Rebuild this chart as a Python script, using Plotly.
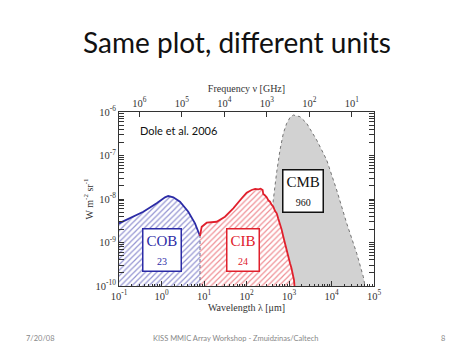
import plotly.graph_objects as go

# ---- data (wavelength in micron, intensity in W m^-2 sr^-1) ----
cob_lam = [0.1, 0.18, 0.373, 0.77, 1.21, 1.44, 1.90, 2.72, 4.27, 6.14, 8.05]
cob_val = [2.76e-9, 3.6e-9, 5.1e-9, 7.96e-9, 1.09e-8, 1.17e-8, 1.09e-8, 8.67e-9, 5.1e-9, 2.76e-9, 1.41e-9]

cib_lam = [8.05, 8.83, 11.6, 19.9, 31.2, 48.9, 77.1, 101, 132, 160, 190, 215, 240, 248, 270, 299, 330,
           357, 390, 427, 470, 514, 560, 614, 670, 735, 800, 883, 960, 1057, 1140, 1222, 1312, 1346]
cib_val = [1.41e-9, 2.31e-9, 2.85e-9, 3.0e-9, 3.92e-9, 6.1e-9, 1.04e-8, 1.40e-8, 1.61e-8, 1.70e-8, 1.67e-8,
           1.72e-8, 1.61e-8, 1.30e-8, 1.22e-8, 1.09e-8, 9.2e-9, 8.67e-9, 7.4e-9, 6.65e-9, 5.3e-9, 4.69e-9,
           3.5e-9, 2.76e-9, 2.0e-9, 1.36e-9, 9.5e-10, 6.72e-10, 4.6e-10, 3.33e-10, 2.6e-10, 1.96e-10, 1.37e-10, 1.0e-10]

cmb_lam = [272, 330, 380, 427, 514, 614, 735, 883, 1057, 1262, 1815, 2606, 4484, 7709, 13250, 22800, 39200, 56000, 61400]
cmb_val = [1.0e-10, 8e-10, 3.5e-9, 9.5e-9, 4.25e-8, 1.34e-7, 3.24e-7, 5.5e-7, 7.48e-7, 8.53e-7, 7.8e-7, 5.5e-7,
           2.27e-7, 7.88e-8, 1.61e-8, 2.76e-9, 5.65e-10, 1.64e-10, 1.0e-10]

lam_exps = [-1, 0, 1, 2, 3, 4, 5]
int_exps = [-10, -9, -8, -7, -6]
freq_exps = [6, 5, 4, 3, 2, 1]   # GHz

lam_ticks = [10.0 ** e for e in lam_exps]
lam_text = ["10<sup>%d</sup>" % e for e in lam_exps]
int_ticks = [10.0 ** e for e in int_exps]
int_text = ["10<sup>%d</sup>" % e for e in int_exps]
freq_tick_lam = [3e5 / 10.0 ** e for e in freq_exps]
freq_text = ["10<sup>%d</sup>" % e for e in freq_exps]
lam_minor = [m * 10.0 ** e for e in lam_exps[:-1] for m in range(2, 10)]
int_minor = [m * 10.0 ** e for e in int_exps[:-1] for m in range(2, 10)]

FLOOR = 1e-10
BLUE = "#2b2ba6"
RED = "#e0202c"
GREY = "#d2d2d2"
SERIF = "Liberation Serif"

fig = go.Figure()

# CMB (grey, dotted outline)
fig.add_trace(go.Scatter(x=cmb_lam, y=cmb_val, mode="lines", fill="toself", fillcolor=GREY,
                         line=dict(color="#555555", width=0.8, dash="dot"), hoverinfo="skip", showlegend=False))

# COB hatched fill
fig.add_trace(go.Scatter(x=cob_lam + [cob_lam[-1], cob_lam[0]], y=cob_val + [FLOOR, FLOOR],
                         mode="lines", fill="toself", fillcolor="white", line=dict(width=0),
                         fillpattern=dict(shape="/", fgcolor=BLUE, bgcolor="white", size=4, solidity=0.3),
                         hoverinfo="skip", showlegend=False))
# CIB hatched fill
fig.add_trace(go.Scatter(x=cib_lam + [cib_lam[-1], cib_lam[0]], y=cib_val + [FLOOR, FLOOR],
                         mode="lines", fill="toself", fillcolor="white", line=dict(width=0),
                         fillpattern=dict(shape="/", fgcolor=RED, bgcolor="white", size=4, solidity=0.3),
                         hoverinfo="skip", showlegend=False))
# divider between COB and CIB
fig.add_trace(go.Scatter(x=[cob_lam[-1], cob_lam[-1]], y=[FLOOR, cob_val[-1]], mode="lines",
                         line=dict(color="#666688", width=1, dash="dot"), hoverinfo="skip", showlegend=False))
# outlines
fig.add_trace(go.Scatter(x=cob_lam, y=cob_val, mode="lines", line=dict(color=BLUE, width=1.8),
                         hoverinfo="skip", showlegend=False))
fig.add_trace(go.Scatter(x=cib_lam, y=cib_val, mode="lines", line=dict(color=RED, width=1.8),
                         hoverinfo="skip", showlegend=False))
# invisible trace for top frequency axis
fig.add_trace(go.Scatter(x=freq_tick_lam, y=[1e-8] * len(freq_tick_lam), xaxis="x2", mode="markers",
                         marker=dict(opacity=0), hoverinfo="skip", showlegend=False))

tickfont = dict(family=SERIF, size=10.5, color="#333333")
titlefont = dict(family=SERIF, size=10, color="#333333")
axcommon = dict(showgrid=False, zeroline=False, ticks="inside", ticklen=5, tickcolor="#333",
                showline=True, linecolor="#333", linewidth=1, tickfont=tickfont)

fig.update_layout(
    width=474, height=355,
    margin=dict(l=119, r=100, t=112, b=69),
    paper_bgcolor="white", plot_bgcolor="white",
    title=dict(text="Same plot, different units", x=0.5, xref="container", xanchor="center",
               y=1 - 43 / 355, yref="container", yanchor="middle",
               font=dict(family="Lato", size=28, color="#111111")),
    xaxis=dict(type="log", range=[-1, 5], tickmode="array", tickvals=lam_ticks, ticktext=lam_text,
               mirror=True,
               minor=dict(tickmode="array", tickvals=lam_minor, ticks="inside", ticklen=2.5,
                          tickcolor="#333", showgrid=False),
               title=dict(text="Wavelength λ [μm]", font=titlefont, standoff=3), **axcommon),
    xaxis2=dict(type="log", range=[-1, 5], overlaying="x", side="top", anchor="y", tickmode="array",
                tickvals=freq_tick_lam, ticktext=freq_text,
                title=dict(text="Frequency ν [GHz]", font=titlefont, standoff=0), **axcommon),
    yaxis=dict(type="log", range=[-10, -6], tickmode="array", tickvals=int_ticks, ticktext=int_text,
               mirror="allticks",
               minor=dict(tickmode="array", tickvals=int_minor, ticks="inside", ticklen=2.5,
                          tickcolor="#333", showgrid=False),
               title=dict(text="W m<sup>-2</sup> sr<sup>-1</sup>", font=titlefont, standoff=0), **axcommon),
)

box_common = dict(xref="x", yref="y", showarrow=False, borderwidth=1.5, borderpad=3, bgcolor="white")
fig.add_annotation(x=0.005, y=-9.166, text="COB<br><span style='font-size:10px'>23</span>",
                   font=dict(family=SERIF, size=15, color=BLUE), bordercolor=BLUE, **box_common)
fig.add_annotation(x=1.925, y=-9.166, text="CIB<br><span style='font-size:10px'>24</span>",
                   font=dict(family=SERIF, size=15, color=RED), bordercolor=RED, **box_common)
fig.add_annotation(x=3.318, y=-7.805, text="CMB<br><span style='font-size:10px'>960</span>",
                   font=dict(family=SERIF, size=15, color="#111"), bordercolor="#111", **box_common)
fig.add_annotation(x=-0.553, y=-6.43, xref="x", yref="y", text="Dole et al. 2006", showarrow=False,
                   xanchor="left", font=dict(family="Lato", size=11, color="#111"))

# slide footer (pixel placement converted to paper coordinates)
foot = dict(family="Lato", size=7.5, color="#888888")
for px, txt in [(40, "7/20/08"), (235.5, "KISS MMIC Array Workshop - Zmuidzinas/Caltech"), (443, "8")]:
    fig.add_annotation(x=(px - 119) / 255, y=(286 - 338) / 174, xref="paper", yref="paper",
                       xanchor="center", yanchor="middle", text=txt, showarrow=False, font=foot)

fig.write_html("out.html")
